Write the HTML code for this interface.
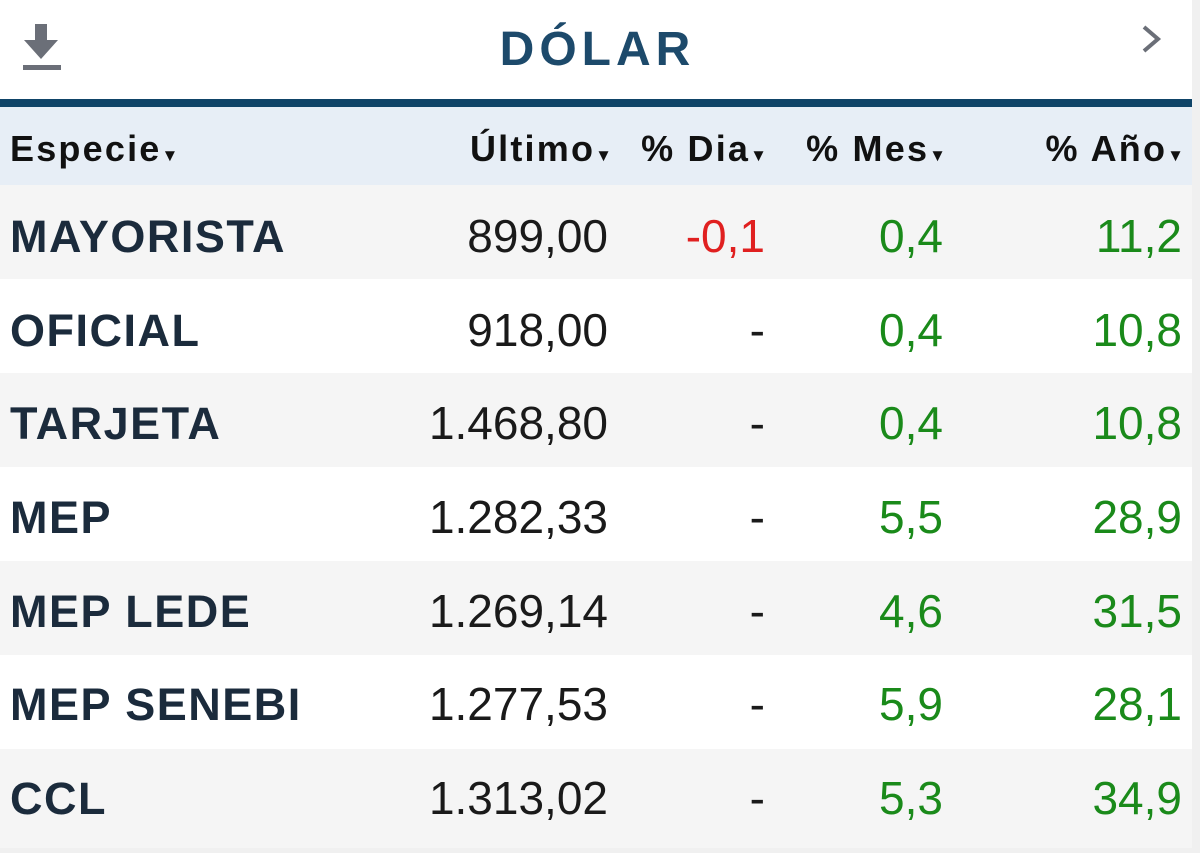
<!DOCTYPE html>
<html><head><meta charset="utf-8"><style>
*{margin:0;padding:0;box-sizing:border-box}
body{width:1200px;height:853px;background:#f0f0f0;position:relative;overflow:hidden;font-family:"Liberation Sans",sans-serif}
#card{position:absolute;left:0;top:0;width:1192px;height:848px;background:#fff}
.title{position:absolute;left:0;width:1192px;top:22px;text-align:center;font-size:48px;font-weight:bold;color:#1d4a6b;letter-spacing:5px;padding-left:3px}
.bar{position:absolute;left:0;top:99px;width:1192px;height:8px;background:#0f4468}
.hdr{position:absolute;left:0;top:107px;width:1192px;height:78px;background:#e7eef6}
.row{position:absolute;left:0;width:1192px;height:94px}
.t{position:absolute;white-space:nowrap;line-height:1}
.h{font-size:36px;font-weight:bold;color:#111;letter-spacing:2.2px;top:131px}
.h span{font-size:17px;letter-spacing:0}
.n{font-size:45px;font-weight:bold;color:#1b2b3c;left:10px;letter-spacing:1.5px}
.v{font-size:46px;color:#1a1a1a;text-align:right}
.g{color:#1a8a1a}.r{color:#e02020}
</style></head><body>
<div id="card">
<svg style="position:absolute;left:22px;top:24px" width="42" height="48"><polygon points="13,0 25,0 25,16 36,16 19,35 2,16 13,16" fill="#6b6f78"/><rect x="1" y="41" width="38" height="5" fill="#6b6f78"/></svg>
<div class="title">DÓLAR</div>
<svg style="position:absolute;left:1140px;top:24px" width="24" height="30"><polyline points="4,3 18,15 4,27" fill="none" stroke="#6b6f78" stroke-width="4"/></svg>
<div class="bar"></div>
<div class="hdr"></div>
<div class="t h" style="left:10px">Especie<span>▼</span></div>
<div class="t h" style="right:580px">Último<span>▼</span></div>
<div class="t h" style="right:425px">% Dia<span>▼</span></div>
<div class="t h" style="right:246px">% Mes<span>▼</span></div>
<div class="t h" style="right:8px">% Año<span>▼</span></div>
<div class="row" style="top:185px;background:#f5f5f5"></div>
<div class="row" style="top:279px;background:#fff"></div>
<div class="row" style="top:373px;background:#f5f5f5"></div>
<div class="row" style="top:467px;background:#fff"></div>
<div class="row" style="top:561px;background:#f5f5f5"></div>
<div class="row" style="top:655px;background:#fff"></div>
<div class="row" style="top:749px;height:99px;background:#f5f5f5"></div>

<div class="t n" style="top:214px">MAYORISTA</div>
<div class="t v" style="top:213px;right:584px">899,00</div>
<div class="t v r" style="top:213px;right:427px">-0,1</div>
<div class="t v g" style="top:213px;right:249px">0,4</div>
<div class="t v g" style="top:213px;right:10px">11,2</div>

<div class="t n" style="top:308px">OFICIAL</div>
<div class="t v" style="top:307px;right:584px">918,00</div>
<div class="t v" style="top:307px;right:427px">-</div>
<div class="t v g" style="top:307px;right:249px">0,4</div>
<div class="t v g" style="top:307px;right:10px">10,8</div>

<div class="t n" style="top:401px">TARJETA</div>
<div class="t v" style="top:400px;right:584px">1.468,80</div>
<div class="t v" style="top:400px;right:427px">-</div>
<div class="t v g" style="top:400px;right:249px">0,4</div>
<div class="t v g" style="top:400px;right:10px">10,8</div>

<div class="t n" style="top:495px">MEP</div>
<div class="t v" style="top:494px;right:584px">1.282,33</div>
<div class="t v" style="top:494px;right:427px">-</div>
<div class="t v g" style="top:494px;right:249px">5,5</div>
<div class="t v g" style="top:494px;right:10px">28,9</div>

<div class="t n" style="top:589px">MEP LEDE</div>
<div class="t v" style="top:588px;right:584px">1.269,14</div>
<div class="t v" style="top:588px;right:427px">-</div>
<div class="t v g" style="top:588px;right:249px">4,6</div>
<div class="t v g" style="top:588px;right:10px">31,5</div>

<div class="t n" style="top:682px">MEP SENEBI</div>
<div class="t v" style="top:681px;right:584px">1.277,53</div>
<div class="t v" style="top:681px;right:427px">-</div>
<div class="t v g" style="top:681px;right:249px">5,9</div>
<div class="t v g" style="top:681px;right:10px">28,1</div>

<div class="t n" style="top:776px">CCL</div>
<div class="t v" style="top:775px;right:584px">1.313,02</div>
<div class="t v" style="top:775px;right:427px">-</div>
<div class="t v g" style="top:775px;right:249px">5,3</div>
<div class="t v g" style="top:775px;right:10px">34,9</div>
</div>
</body></html>
